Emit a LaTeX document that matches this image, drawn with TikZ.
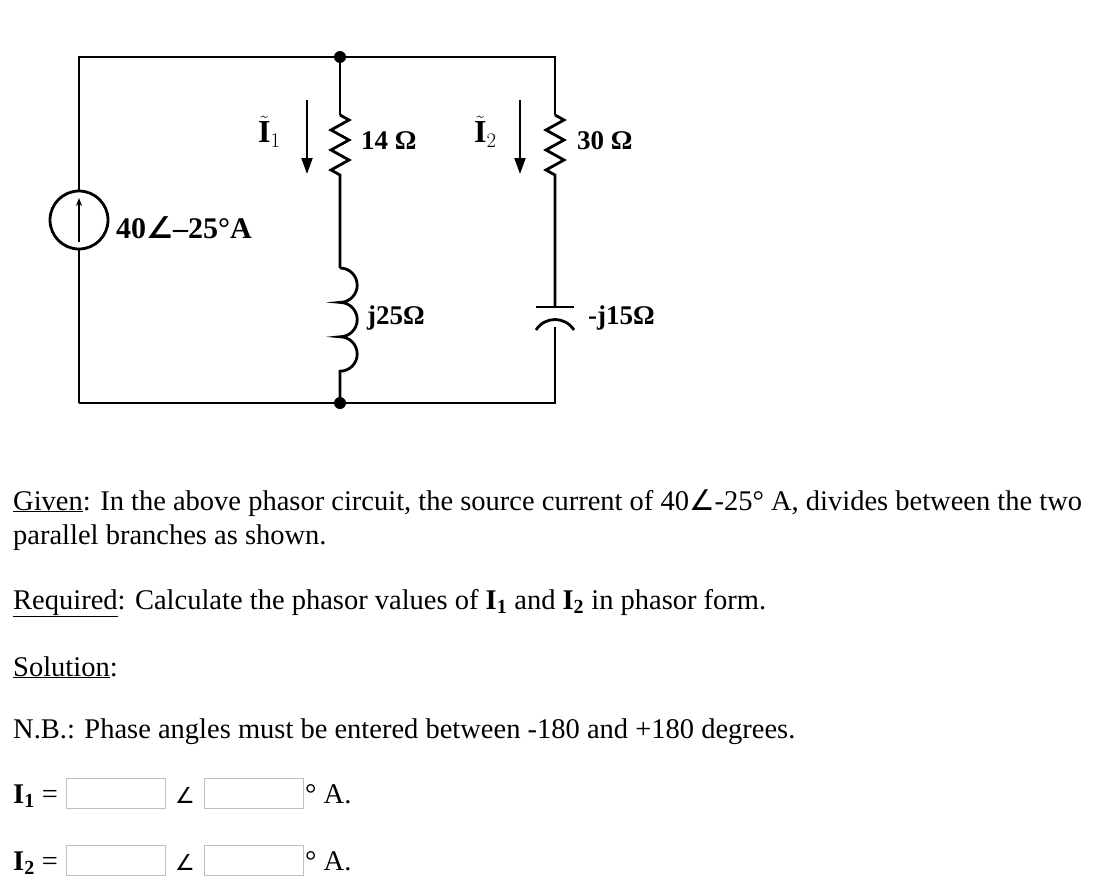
\documentclass[tikz,border=0pt]{standalone}
\usepackage{fontspec}
\setmainfont{Liberation Serif}
\newfontfamily\sym{DejaVu Sans}
\usetikzlibrary{arrows.meta}
\newcommand{\ang}{{\sym\char"2220}}
\begin{document}
\begin{tikzpicture}[x=1pt,y=-1pt,
  wire/.style={line width=2.8pt},
  lbl/.style={font=\fontsize{27}{29}\selectfont\bfseries,anchor=west,inner sep=0pt},
  txt/.style={font=\fontsize{28.5}{31}\selectfont,anchor=base west,inner sep=0pt},
  box/.style={draw=black!25,line width=1pt,minimum width=99pt,minimum height=30pt,inner sep=0pt},
  cur/.style={line width=2pt,-{Triangle[length=16pt,width=11pt]}}]
\useasboundingbox (0,0) rectangle (1108,894);
% nodes
\coordinate (tl) at (79,57); \coordinate (bl) at (79,403);
\coordinate (tm) at (340,57); \coordinate (bm) at (340,403);
\coordinate (tr) at (555,57); \coordinate (br) at (555,403);
\node[circle,draw,line width=2.8pt,minimum size=58pt,inner sep=0pt] (src) at (79,220) {};
\draw[wire] (bl) -- (src.south) (src.north) -- (tl) -- (tr) -- (555,115);
\draw[wire] (bl) -- (br) -- (555,327);
\draw[wire] (tm) -- (340,115);
\draw[line width=2pt,-{Stealth[length=8pt]}] (79,242) -- (79,198);
% resistor 1
\draw[wire] (340,115) -- (349,120) -- (331,130) -- (349,140) -- (331,150) -- (349,160) -- (331,170) -- (340,175) -- (340,268);
% resistor 2
\draw[wire] (555,115) -- (564,120) -- (546,130) -- (564,140) -- (546,150) -- (564,160) -- (546,170) -- (555,175) -- (555,307);
% inductor
\draw[wire] (340,268) arc[start angle=-90,end angle=90,radius=17.2] arc[start angle=-90,end angle=90,radius=17.2] arc[start angle=-90,end angle=90,radius=17.2] -- (bm);
% capacitor
\draw[wire] (536,307) -- (574,307);
\draw[wire] (536,330) .. controls (545,316) and (565,316) .. (574,330);
\fill (tm) circle (6pt); \fill (bm) circle (6pt);
\draw[cur] (307,100) -- (307,174);
\draw[cur] (520,100) -- (520,174);
\node[lbl,font=\fontsize{32}{34}\selectfont] (i1) at (258,132) {$\tilde{\mathbf{I}}_1$};
\node[lbl,font=\fontsize{32}{34}\selectfont] (i2) at (474,132) {$\tilde{\mathbf{I}}_2$};
\node[lbl] (r1) at (361,141) {14 Ω};
\node[lbl] (r2) at (577,141) {30 Ω};
\node[lbl] (l1) at (367,318) {j25Ω};
\node[lbl] (c1) at (588,318) {-j15Ω};
\node[lbl,font=\fontsize{30}{32}\selectfont\bfseries] (s) at (116,228) {40\ang–25°A};
% text
\node[txt] (g1) at (13,510) {\underline{Given}: In the above phasor circuit, the source current of 40\ang-25° A, divides between the two};
\node[txt] (g2) at (13,544) {parallel branches as shown.};
\node[txt] (r) at (13,609) {\underline{Required}: Calculate the phasor values of $\mathbf{I_1}$ and $\mathbf{I_2}$ in phasor form.};
\node[txt] (so) at (13,676) {\underline{Solution}:};
\node[txt] (nb) at (13,738) {N.B.: Phase angles must be entered between -180 and +180 degrees.};
\foreach \y/\k in {793/1,860/2}{
  \node[txt] at (13,\y+10) {$\mathbf{I_\k}$ =};
  \node[box] at (116,\y) {};
  \node[txt,font=\fontsize{22}{24}\selectfont] at (175,\y+10) {\ang};
  \node[box] at (254,\y) {};
  \node[txt] at (305,\y+10) {° A.};
}
\end{tikzpicture}
\end{document}
